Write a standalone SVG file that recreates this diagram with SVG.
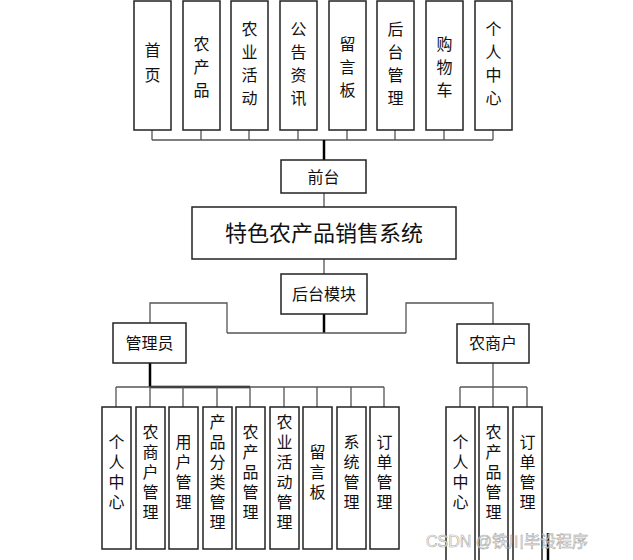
<svg xmlns="http://www.w3.org/2000/svg" width="633" height="560" viewBox="0 0 633 560">
<style>
.b{fill:#fff;stroke:#222;stroke-width:1.5}
.t{font-family:"Liberation Serif","Noto Sans CJK SC",serif;font-size:16px;fill:#111;text-anchor:middle}
.c{fill:none;stroke:#555;stroke-width:1.3}
.k{fill:none;stroke:#000;stroke-width:2.5}
</style>
<rect width="633" height="560" fill="#fff"/>
<g id="connectors">
<path class="c" d="M152,130V140M201,130V140M249,130V140M298,130V140M347,130V140M395,130V140M444,130V140M493,130V140M152,140H493"/>
<path class="k" d="M324,140V160"/>
<path class="c" d="M324,193V207M324,259V274"/>
<path class="k" d="M324,314V333"/>
<path class="c" d="M227,333H406M227,333V303H150V323M406,333V303H493V324"/>
<path class="k" d="M150,363V387M150,387H250"/>
<path class="c" d="M116,387H384M116,387V407M183,387V407M217,387V407M250,387V407M284,387V407M317,387V407M351,387V407M384,387V407M150,387V407"/>
<path class="c" d="M493,363V387M460,387H527M460,387V407M493,387V407M527,387V407"/>
<path class="k" d="M548,533V560"/>
</g>
<g id="top-nodes">
<g id="n1"><rect class="b" x="134" y="1" width="37" height="129"/><text class="t" x="152.5" y="56">首</text><text class="t" x="152.5" y="81">页</text></g>
<g id="n2"><rect class="b" x="183" y="1" width="37" height="129"/><text class="t" x="201.5" y="50">农</text><text class="t" x="201.5" y="73">产</text><text class="t" x="201.5" y="96">品</text></g>
<g id="n3"><rect class="b" x="231" y="1" width="37" height="129"/><text class="t" x="249.5" y="35">农</text><text class="t" x="249.5" y="58">业</text><text class="t" x="249.5" y="81">活</text><text class="t" x="249.5" y="104">动</text></g>
<g id="n4"><rect class="b" x="280" y="1" width="37" height="129"/><text class="t" x="298.5" y="35">公</text><text class="t" x="298.5" y="58">告</text><text class="t" x="298.5" y="81">资</text><text class="t" x="298.5" y="104">讯</text></g>
<g id="n5"><rect class="b" x="329" y="1" width="37" height="129"/><text class="t" x="347.5" y="50">留</text><text class="t" x="347.5" y="73">言</text><text class="t" x="347.5" y="96">板</text></g>
<g id="n6"><rect class="b" x="377" y="1" width="37" height="129"/><text class="t" x="395.5" y="35">后</text><text class="t" x="395.5" y="58">台</text><text class="t" x="395.5" y="81">管</text><text class="t" x="395.5" y="104">理</text></g>
<g id="n7"><rect class="b" x="426" y="1" width="37" height="129"/><text class="t" x="444.5" y="50">购</text><text class="t" x="444.5" y="73">物</text><text class="t" x="444.5" y="96">车</text></g>
<g id="n8"><rect class="b" x="475" y="1" width="37" height="129"/><text class="t" x="493.5" y="35">个</text><text class="t" x="493.5" y="58">人</text><text class="t" x="493.5" y="81">中</text><text class="t" x="493.5" y="104">心</text></g>
</g>
<g id="qiantai"><rect class="b" x="281" y="160" width="85" height="33"/><text class="t" x="323.5" y="183">前台</text></g>
<g id="system"><rect class="b" x="192" y="207" width="264" height="52"/><text class="t" x="324" y="241" style="font-size:22px">特色农产品销售系统</text></g>
<g id="houtai"><rect class="b" x="281" y="274" width="86" height="40"/><text class="t" x="324" y="300">后台模块</text></g>
<g id="admin"><rect class="b" x="113" y="323" width="73" height="40"/><text class="t" x="149.5" y="349">管理员</text></g>
<g id="farmer"><rect class="b" x="457" y="324" width="72" height="39"/><text class="t" x="493" y="349">农商户</text></g>
<g id="admin-children">
<g id="a1"><rect class="b" x="102" y="407" width="29" height="142"/><text class="t" x="116.5" y="448">个</text><text class="t" x="116.5" y="468">人</text><text class="t" x="116.5" y="488">中</text><text class="t" x="116.5" y="508">心</text></g>
<g id="a2"><rect class="b" x="136" y="407" width="29" height="142"/><text class="t" x="150.5" y="438">农</text><text class="t" x="150.5" y="458">商</text><text class="t" x="150.5" y="478">户</text><text class="t" x="150.5" y="498">管</text><text class="t" x="150.5" y="518">理</text></g>
<g id="a3"><rect class="b" x="169" y="407" width="29" height="142"/><text class="t" x="183.5" y="448">用</text><text class="t" x="183.5" y="468">户</text><text class="t" x="183.5" y="488">管</text><text class="t" x="183.5" y="508">理</text></g>
<g id="a4"><rect class="b" x="203" y="407" width="29" height="142"/><text class="t" x="217.5" y="428">产</text><text class="t" x="217.5" y="448">品</text><text class="t" x="217.5" y="468">分</text><text class="t" x="217.5" y="488">类</text><text class="t" x="217.5" y="508">管</text><text class="t" x="217.5" y="528">理</text></g>
<g id="a5"><rect class="b" x="236" y="407" width="29" height="142"/><text class="t" x="250.5" y="438">农</text><text class="t" x="250.5" y="458">产</text><text class="t" x="250.5" y="478">品</text><text class="t" x="250.5" y="498">管</text><text class="t" x="250.5" y="518">理</text></g>
<g id="a6"><rect class="b" x="270" y="407" width="29" height="142"/><text class="t" x="284.5" y="428">农</text><text class="t" x="284.5" y="448">业</text><text class="t" x="284.5" y="468">活</text><text class="t" x="284.5" y="488">动</text><text class="t" x="284.5" y="508">管</text><text class="t" x="284.5" y="528">理</text></g>
<g id="a7"><rect class="b" x="303" y="407" width="29" height="142"/><text class="t" x="317.5" y="458">留</text><text class="t" x="317.5" y="478">言</text><text class="t" x="317.5" y="498">板</text></g>
<g id="a8"><rect class="b" x="337" y="407" width="29" height="142"/><text class="t" x="351.5" y="448">系</text><text class="t" x="351.5" y="468">统</text><text class="t" x="351.5" y="488">管</text><text class="t" x="351.5" y="508">理</text></g>
<g id="a9"><rect class="b" x="370" y="407" width="29" height="142"/><text class="t" x="384.5" y="448">订</text><text class="t" x="384.5" y="468">单</text><text class="t" x="384.5" y="488">管</text><text class="t" x="384.5" y="508">理</text></g>
</g>
<g id="farmer-children">
<g id="f1"><rect class="b" x="446" y="407" width="29" height="160"/><text class="t" x="460.5" y="448">个</text><text class="t" x="460.5" y="468">人</text><text class="t" x="460.5" y="488">中</text><text class="t" x="460.5" y="508">心</text></g>
<g id="f2"><rect class="b" x="479" y="407" width="29" height="160"/><text class="t" x="493.5" y="438">农</text><text class="t" x="493.5" y="458">产</text><text class="t" x="493.5" y="478">品</text><text class="t" x="493.5" y="498">管</text><text class="t" x="493.5" y="518">理</text></g>
<g id="f3"><rect class="b" x="513" y="407" width="29" height="160"/><text class="t" x="527.5" y="448">订</text><text class="t" x="527.5" y="468">单</text><text class="t" x="527.5" y="488">管</text><text class="t" x="527.5" y="508">理</text></g>
</g>
<text x="426" y="547" style="font-family:'Liberation Sans','Noto Sans CJK SC',sans-serif;font-size:16px;fill:#fff;stroke:#999;stroke-width:0.6;opacity:0.85">CSDN @铁川毕设程序</text>
</svg>
